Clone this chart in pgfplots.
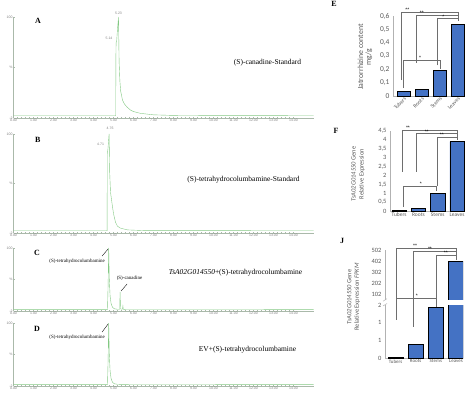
\documentclass[border=0pt]{standalone}
\usepackage{pgfplots}
\pgfplotsset{compat=1.18}
\usepackage{fontspec}
\setmainfont{Liberation Serif}
\newfontfamily\calfont{Carlito}
\newfontfamily\arialfont{Liberation Sans}
\definecolor{cg}{RGB}{130,200,130}
\definecolor{axg}{RGB}{170,185,170}
\definecolor{barb}{RGB}{68,114,196}
\definecolor{bare}{RGB}{30,45,90}
\definecolor{txg}{RGB}{89,89,89}
\definecolor{brg}{RGB}{110,110,110}
\tikzset{star/.style={font=\arialfont\fontsize{5}{5}\selectfont, inner sep=0.3bp, anchor=south}}
\pgfplotsset{
 chrom/.style={scale only axis, width=300bp, xmin=0, xmax=15, ymin=-2, ymax=100, clip=false,
  axis x line=bottom, axis y line=left, axis line style={-, draw=axg, line width=0.4pt},
  xtick={0,...,14}, minor x tick num=4, ytick={-2,49,100}, yticklabels={-2,\%,100},
  tick style={draw=axg, line width=0.3pt}, major tick length=1.5bp, minor tick length=1bp,
  tick align=inside,
  x tick label style={/pgf/number format/fixed, /pgf/number format/fixed zerofill, /pgf/number format/precision=2},
  /pgf/number format/assume math mode=true,
  ticklabel style={font=\arialfont\fontsize{3.5}{4}\selectfont, text=gray, inner sep=0.8bp},
  cycle list={{cg, line width=0.5pt, no marks, sharp plot}}},
 barax/.style={scale only axis, axis x line*=bottom, axis y line*=left,
  axis line style={-, draw=gray!60, line width=0.5pt}, ybar, bar width=0.74,
  xtick={0,1,2,3}, xticklabels={Tubers,Roots,Stems,Leaves}, major tick length=0pt,
  ticklabel style={font=\calfont\fontsize{6.5}{6.5}\selectfont, text=txg},
  /pgf/number format/assume math mode=true, /pgf/number format/use comma,
  clip mode=individual,
  cycle list={{fill=barb, draw=bare, line width=0.5pt}}},
}
\begin{document}
\begin{tikzpicture}
\path[use as bounding box] (0,0) rectangle (474bp,-399bp);
% ---------- A
\begin{axis}[chrom, at={(13.5bp,-118bp)}, anchor=south west, height=101bp]
\addplot coordinates {(0,0.3) (4,0.3) (5.11,0.3) (5.12,60) (5.13,74) (5.16,76) (5.20,88) (5.25,100) (5.28,55) (5.32,35) (5.36,25) (5.45,16) (5.55,12) (5.68,9) (5.85,6) (6.0,4.5) (6.35,2.7) (7.0,1.2) (8.0,0.6) (10,0.4) (15,0.3)};
\node[font=\bfseries\fontsize{8}{8}\selectfont] at (axis cs:1.22,96) {A};
\node[font=\fontsize{7.5}{8}\selectfont] at (axis cs:12.7,53.5) {(S)-canadine-Standard};
\node[font=\arialfont\fontsize{3.5}{4}\selectfont, text=gray] at (axis cs:5.25,104) {5.23};
\node[font=\arialfont\fontsize{3.5}{4}\selectfont, text=gray, anchor=east] at (axis cs:5.12,78.8) {5.14};
\end{axis}
% ---------- B
\begin{axis}[chrom, at={(13.5bp,-233bp)}, anchor=south west, height=99bp]
\addplot coordinates {(0,0.3) (4,0.3) (4.68,0.3) (4.69,80) (4.72,84) (4.75,92) (4.78,100) (4.81,60) (4.85,40) (4.93,28) (5.0,18) (5.1,9) (5.2,5) (5.35,3) (5.7,1.2) (6.5,0.5) (15,0.3)};
\node[font=\bfseries\fontsize{8}{8}\selectfont] at (axis cs:1.22,93.8) {B};
\node[font=\fontsize{7.5}{8}\selectfont] at (axis cs:11.5,52.6) {(S)-tetrahydrocolumbamine-Standard};
\node[font=\arialfont\fontsize{3.5}{4}\selectfont, text=gray] at (axis cs:4.83,106) {4.76};
\node[font=\arialfont\fontsize{3.5}{4}\selectfont, text=gray, anchor=east] at (axis cs:4.70,89.7) {4.71};
\end{axis}
% ---------- C
\begin{axis}[chrom, at={(13.5bp,-311bp)}, anchor=south west, height=63bp]
\addplot coordinates {(0,0.3) (4,0.3) (4.70,0.3) (4.73,40) (4.76,100) (4.79,50) (4.83,22) (4.88,10) (4.95,4) (5.05,1.5) (5.2,0.8) (5.31,0.8) (5.33,29) (5.35,2) (5.38,1) (5.45,0.8) (5.47,6) (5.49,0.8) (5.6,0.5) (15,0.3)};
\node[font=\bfseries\fontsize{8}{8}\selectfont] at (axis cs:1.18,92) {C};
\node[font=\fontsize{5}{5}\selectfont] at (axis cs:3.18,79) {(S)-tetrahydrocolumbamine};
\draw[black, line width=0.35pt] (axis cs:4.43,87) -- (axis cs:4.73,98.4);
\node[font=\fontsize{5}{5}\selectfont] at (axis cs:5.8,51.4) {(S)-canadine};
\draw[black, line width=0.35pt] (axis cs:5.38,30.4) -- (axis cs:5.68,41.7);
\node[font=\fontsize{7.5}{8}\selectfont] at (axis cs:11.1,59.5) {\textit{TsA02G014550}+(S)-tetrahydrocolumbamine};
\end{axis}
% ---------- D
\begin{axis}[chrom, at={(13.5bp,-386bp)}, anchor=south west, height=63bp]
\addplot coordinates {(0,0.3) (4,0.3) (4.70,0.3) (4.73,40) (4.76,100) (4.79,50) (4.83,22) (4.88,10) (4.95,4) (5.05,1.5) (5.2,0.8) (6,0.4) (15,0.3)};
\node[font=\bfseries\fontsize{8}{8}\selectfont] at (axis cs:1.18,90.3) {D};
\node[font=\fontsize{5}{5}\selectfont] at (axis cs:3.18,77.3) {(S)-tetrahydrocolumbamine};
\draw[black, line width=0.35pt] (axis cs:4.43,85.4) -- (axis cs:4.73,98.4);
\node[font=\fontsize{7.5}{8}\selectfont] at (axis cs:11.7,56.3) {EV+(S)-tetrahydrocolumbamine};
\end{axis}
% ---------- E
\begin{axis}[barax, at={(393bp,-96bp)}, anchor=south west, width=72bp, height=80bp,
  xmin=-0.6, xmax=3.4, ymin=0, ymax=0.6, ytick={0,0.1,0.2,0.3,0.4,0.5,0.6},
  bar width=0.75, x tick label style={rotate=45, anchor=north east, inner sep=0.3bp, font=\calfont\fontsize{5.5}{5.5}\selectfont},
  y tick label style={font=\calfont\fontsize{7.5}{7.5}\selectfont}]
\addplot coordinates {(0,0.037) (1,0.05) (2,0.19) (3,0.535)};
\draw[brg, line width=0.4pt] (axis cs:-0.15,0.12) -- (axis cs:-0.15,0.63) -- (axis cs:3.0,0.63) -- (axis cs:3.0,0.56);
\draw[brg, line width=0.4pt] (axis cs:0.7,0.25) -- (axis cs:0.7,0.605) -- (axis cs:3.0,0.605);
\draw[brg, line width=0.4pt] (axis cs:1.85,0.23) -- (axis cs:1.85,0.58) -- (axis cs:3.0,0.58);
\draw[brg, line width=0.4pt] (axis cs:-0.05,0.06) -- (axis cs:-0.05,0.27) -- (axis cs:2.0,0.27) -- (axis cs:2.0,0.2);
\node[star] at (axis cs:0.2,0.63) {**};
\node[star] at (axis cs:1.0,0.605) {**};
\node[star] at (axis cs:2.2,0.58) {*};
\node[star] at (axis cs:0.9,0.27) {*};
\end{axis}
\node[rotate=90, align=center, font=\calfont\fontsize{7.8}{7.8}\selectfont, text=txg] at (365bp,-57bp) {Jatrorrhizine content\\mg/g};
\node[font=\bfseries\fontsize{8}{8}\selectfont] at (334bp,-4bp) {E};
% ---------- F
\begin{axis}[barax, at={(390bp,-211bp)}, anchor=south west, width=75bp, height=80bp,
  xmin=-0.47, xmax=3.41, ymin=0, ymax=4.5, ytick={0,0.5,1,1.5,2,2.5,3,3.5,4,4.5},
  x tick label style={font=\calfont\fontsize{5.5}{5.5}\selectfont, inner sep=1.5bp}]
\addplot coordinates {(0,0.02) (1,0.15) (2,1.0) (3,3.9)};
\draw[brg, line width=0.4pt] (axis cs:0.14,2.2) -- (axis cs:0.14,4.55) -- (axis cs:2.99,4.55) -- (axis cs:2.99,4.0);
\draw[brg, line width=0.4pt] (axis cs:0.91,2.2) -- (axis cs:0.91,4.35) -- (axis cs:2.99,4.35);
\draw[brg, line width=0.4pt] (axis cs:1.95,1.4) -- (axis cs:1.95,4.16) -- (axis cs:2.99,4.16);
\draw[brg, line width=0.4pt] (axis cs:0.2,0.22) -- (axis cs:0.2,1.4) -- (axis cs:1.9,1.4) -- (axis cs:1.9,1.14);
\node[star] at (axis cs:0.46,4.55) {**};
\node[star] at (axis cs:1.43,4.35) {**};
\node[star] at (axis cs:2.21,4.16) {**};
\node[star] at (axis cs:1.12,1.4) {*};
\end{axis}
\node[rotate=90, align=center, font=\calfont\fontsize{6.5}{8}\selectfont, text=txg] at (358bp,-174bp) {\textit{TsA02G014550} Gene\\Relative Expression};
\node[font=\bfseries\fontsize{8}{8}\selectfont] at (336bp,-131bp) {F};
% ---------- J lower
\begin{axis}[barax, at={(385bp,-358bp)}, anchor=south west, width=78bp, height=53bp,
  xmin=-0.52, xmax=3.35, ymin=0, ymax=2, ytick={0,0.6667,1.3333,2}, yticklabels={0,1,1,2},
  x tick label style={font=\calfont\fontsize{5}{5}\selectfont, inner sep=1.5bp}]
\addplot coordinates {(0,0.02) (1,0.52) (2,1.91) (3,2.5)};
\draw[gray!60, line width=0.5pt] (rel axis cs:0,1) ++(-2bp,-1bp) -- ++(4bp,2.5bp);
\end{axis}
% ---------- J upper
\begin{axis}[barax, at={(385bp,-299.7bp)}, anchor=south west, width=78bp, height=49.7bp,
  xmin=-0.52, xmax=3.35, ymin=50, ymax=502, ytick={102,202,302,402,502},
  axis x line=none, xtick=\empty]
\addplot coordinates {(3,402)};
\draw[brg, line width=0.4pt] (axis cs:0.06,-134) -- (axis cs:0.06,520) -- (axis cs:2.99,520) -- (axis cs:2.99,411);
\draw[brg, line width=0.4pt] (axis cs:0.88,-198) -- (axis cs:0.88,493) -- (axis cs:2.99,493);
\draw[brg, line width=0.4pt] (axis cs:2.0,65.6) -- (axis cs:2.0,456.5) -- (axis cs:2.99,456.5);
\draw[brg, line width=0.4pt] (axis cs:0.06,65.6) -- (axis cs:2.0,65.6) -- (axis cs:2.0,-16);
\node[star] at (axis cs:0.97,520) {**};
\node[star] at (axis cs:1.71,493) {**};
\node[star] at (axis cs:2.5,456.5) {**};
\node[star] at (axis cs:1.06,65.6) {*};
\draw[gray!60, line width=0.5pt] (rel axis cs:0,0) ++(-2bp,-1.5bp) -- ++(4bp,2.5bp);
\end{axis}
\node[rotate=90, align=center, font=\calfont\fontsize{6.5}{7.5}\selectfont, text=txg] at (353.5bp,-297bp) {\textit{TsA02G014550} Gene\\Relative Expression \textit{FPKM}};
\node[font=\bfseries\fontsize{8}{8}\selectfont] at (342bp,-241bp) {J};
\end{tikzpicture}
\end{document}
